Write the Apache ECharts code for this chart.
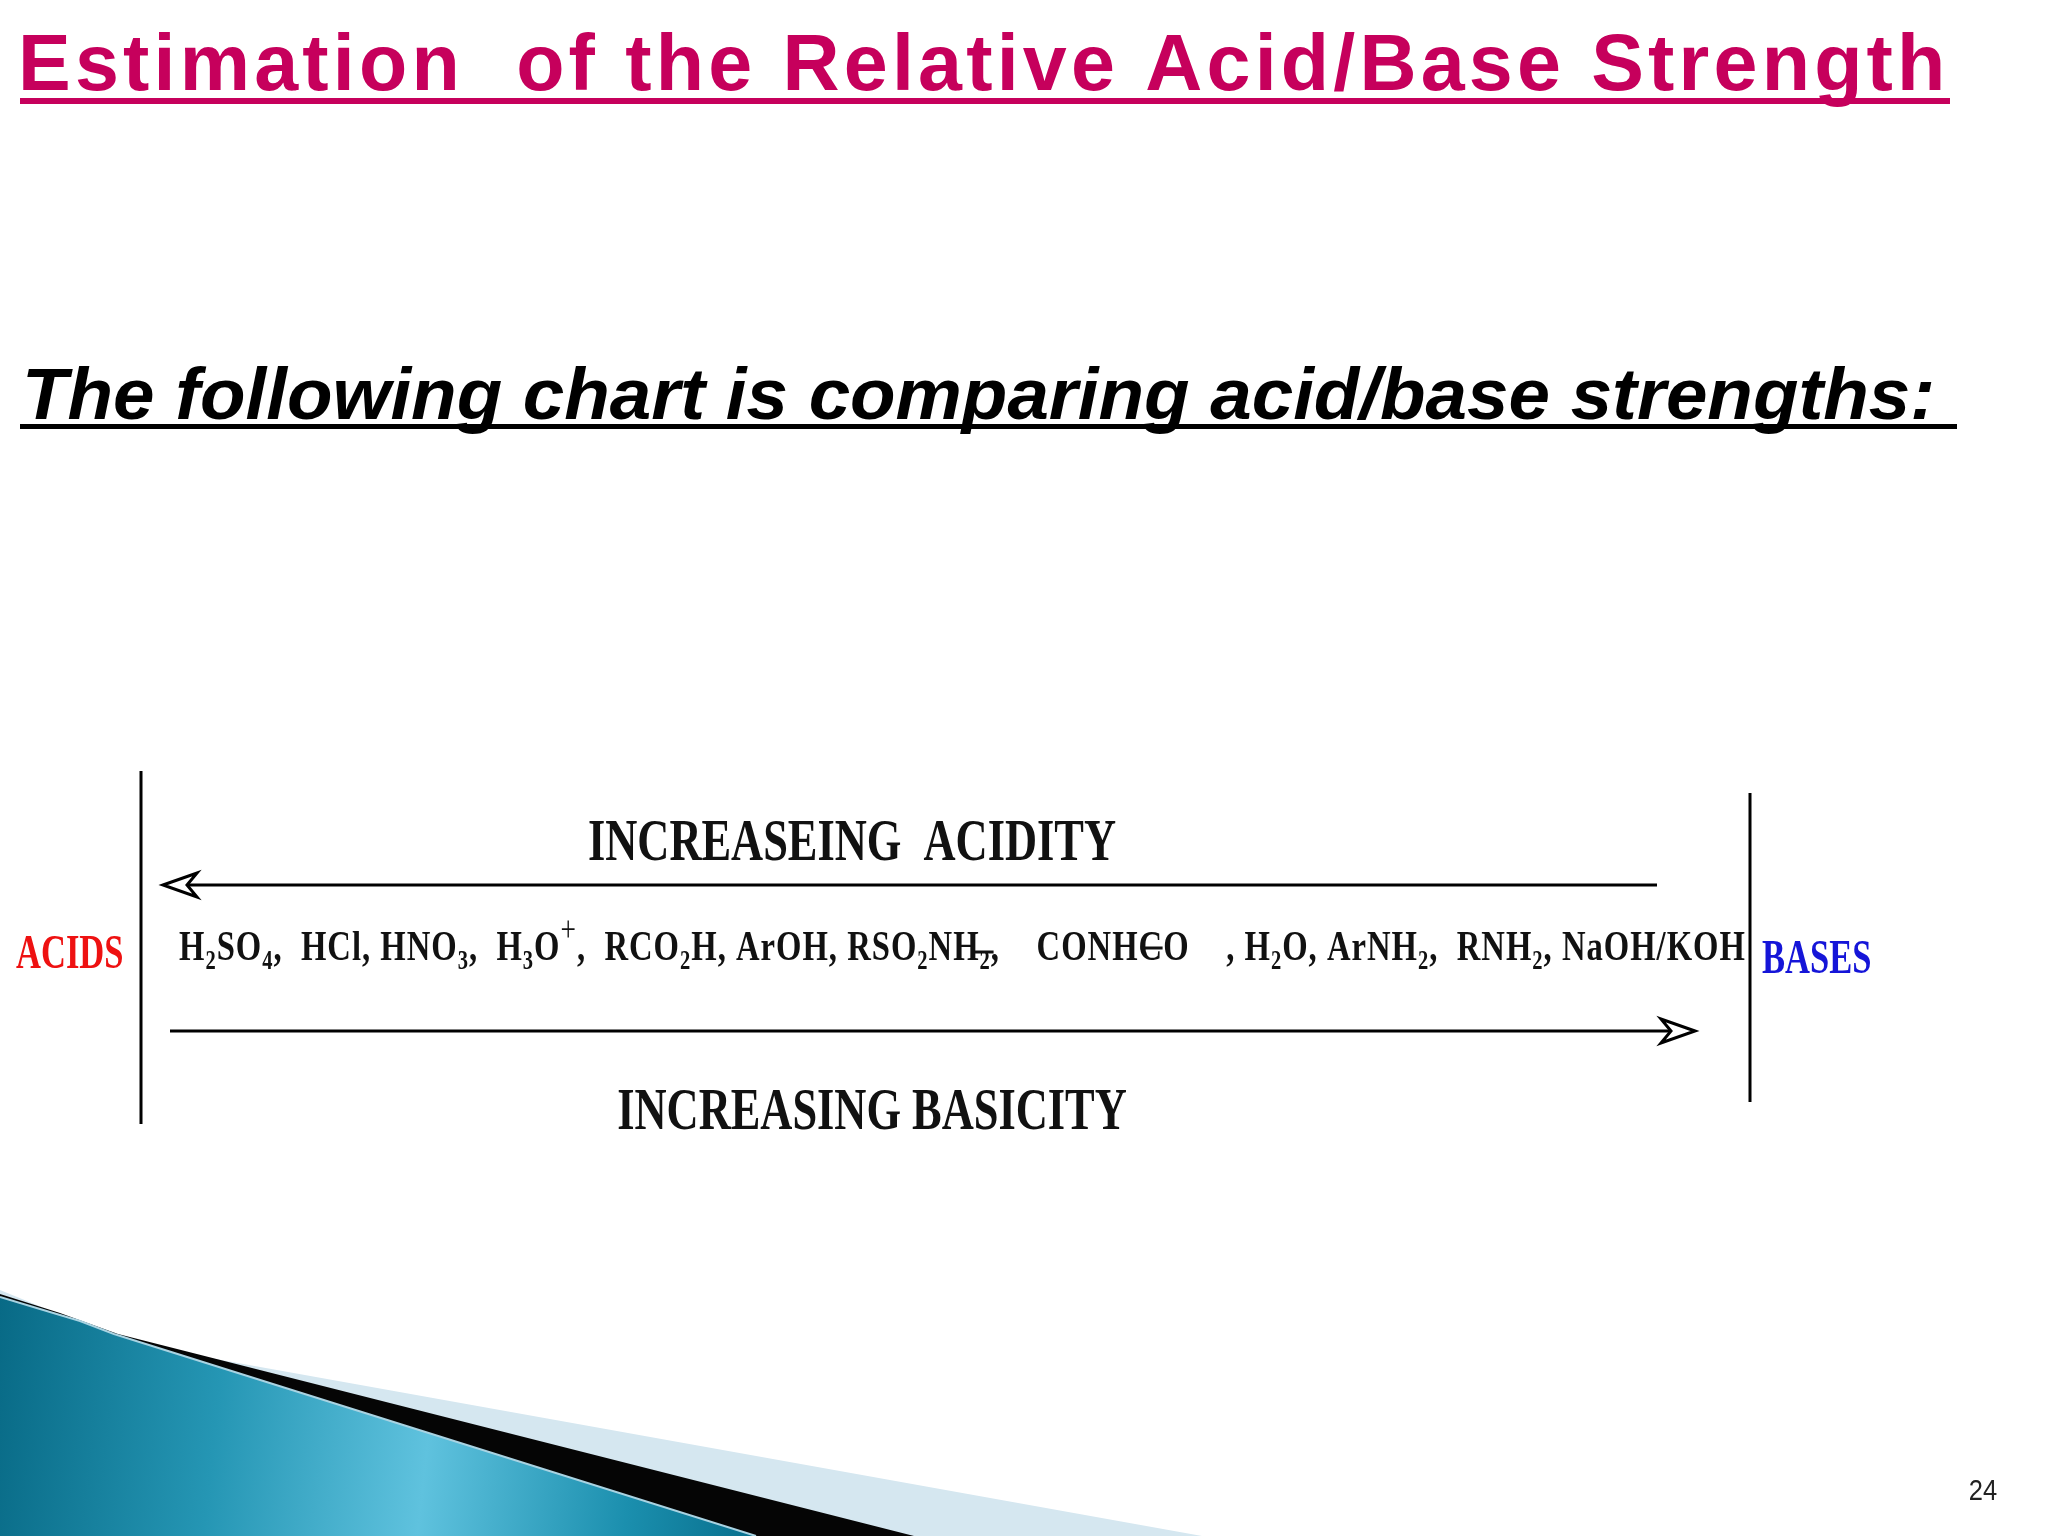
<!DOCTYPE html>
<html>
<head>
<meta charset="utf-8">
<style>
  html, body { margin: 0; padding: 0; background: #ffffff; }
  #chart { width: 2048px; height: 1536px; }
</style>
<script src="https://cdn.jsdelivr.net/npm/echarts@6/dist/echarts.min.js"></script>
</head>
<body>
<div id="chart"></div>
<script>
// ---- content ----
const titleText = 'Estimation  of the Relative Acid/Base Strength';
const subtitleText = 'The following chart is comparing acid/base strengths: ';
const acidLabel = 'ACIDS';
const baseLabel = 'BASES';
const acidityLabel = 'INCREASEING  ACIDITY';
const basicityLabel = 'INCREASING BASICITY';
const pageNumber = '24';
// compounds, ordered from strongest acid to strongest base ( _n = subscript, ^x = superscript )
const compounds = ['H_2SO_4', 'HCl', 'HNO_3', 'H_3O^+', 'RCO_2H', 'ArOH', 'RSO_2NH_2', 'CONHCO', 'H_2O', 'ArNH_2', 'RNH_2', 'NaOH/KOH'];
const separators = [',  ', ', ', ',  ', ',  ', ', ', ', ', ',    ', '    , ', ', ', ',  ', ', ', ''];

// ---- styles / layout ----
const SERIF = '"Liberation Serif", "Times New Roman", serif';
const SANS = '"Liberation Sans", Arial, sans-serif';
const magenta = '#c6005c';
const ink = '#111111';
const rowX = 179, rowY = 949;
const rowScale = 0.76;
const rowFont = 43, subFont = 27, supFont = 36;
const rowGap = 1.3;   // letter spacing (unscaled px)
const subDrop = 13, supRise = 17;

// ---- build per-character tokens for the compound row ----
const rowTokens = [];   // {ch, st, comp}
compounds.forEach((c, ci) => {
  for (let i = 0; i < c.length; i++) {
    const ch = c[i];
    if ((ch === '_' || ch === '^') && i + 1 < c.length) {
      rowTokens.push({ ch: c[i + 1], st: ch === '_' ? 'sub' : 'sup', comp: ci });
      i++;
    } else {
      rowTokens.push({ ch: ch, st: 'm', comp: ci });
    }
  }
  for (const ch of separators[ci]) rowTokens.push({ ch: ch, st: 'm', comp: -1 });
});
// sub/superscripts keep their room in the row but are drawn as their own texts
const rowRich = rowTokens.map(t => '{' + (t.st === 'm' ? 'm' : 'gap_' + t.st) + '|' + t.ch + '}').join('');
const titleRich = titleText.split('').map(ch => '{c|' + ch + '}').join('');

// measure token positions
const mctx = document.createElement('canvas').getContext('2d');
const fontOf = { m: 'bold ' + rowFont + 'px ' + SERIF, sub: 'bold ' + subFont + 'px ' + SERIF, sup: supFont + 'px ' + SERIF };
const tokenLeft = [];
let acc = 0;
rowTokens.forEach(t => {
  tokenLeft.push(acc);
  mctx.font = fontOf[t.st];
  acc += mctx.measureText(t.ch).width + rowGap;
});
function tokX(idx) { return rowX + tokenLeft[idx] * rowScale; }
function findToken(compIdx, nth) {
  let k = -1;
  for (let i = 0; i < rowTokens.length; i++) {
    if (rowTokens[i].comp === compIdx) { k++; if (k === nth) return i; }
  }
  return 0;
}
const dashA = tokX(findToken(6, 6));   // last "2" of RSO2NH2
const dashB = tokX(findToken(7, 4));   // second "C" of CONHCO

const scriptTexts = [];
rowTokens.forEach((t, i) => {
  if (t.st === 'm') return;
  scriptTexts.push({
    type: 'text', x: tokX(i), y: t.st === 'sub' ? rowY + subDrop : rowY - supRise, scaleX: rowScale, z: 6,
    style: {
      text: t.ch, fill: ink, fontFamily: SERIF, fontWeight: t.st === 'sub' ? 'bold' : 'normal',
      fontSize: t.st === 'sub' ? subFont : supFont, align: 'left', verticalAlign: 'middle'
    }
  });
});

const chart = echarts.init(document.getElementById('chart'), null, { renderer: 'canvas' });

function arrowHead(tipX, y, dir) {
  const L = 34, W = 12, N = 24;
  return {
    type: 'polygon',
    shape: { points: [[tipX, y], [tipX - dir * L, y - W], [tipX - dir * N, y], [tipX - dir * L, y + W]] },
    style: { fill: '#ffffff', stroke: '#000000', lineWidth: 3, lineJoin: 'miter' },
    z: 10
  };
}

const graphic = [
  // bottom-left decoration
  {
    type: 'polygon',
    shape: { points: [[0, 1290], [132, 1344], [1202, 1536], [0, 1536]] },
    style: { fill: '#d5e7f0' }, z: 1
  },
  {
    type: 'polygon',
    shape: { points: [[0, 1294], [60, 1313], [118, 1334], [914, 1536], [0, 1536]] },
    style: { fill: '#050505' }, z: 2
  },
  {
    type: 'polygon',
    shape: { points: [[0, 1297], [40, 1309], [80, 1321], [114, 1334], [756, 1536], [0, 1536]] },
    style: {
      fill: new echarts.graphic.LinearGradient(0, 0, 1, 0.35, [
        { offset: 0, color: '#086a86' },
        { offset: 0.3, color: '#2596b4' },
        { offset: 0.58, color: '#5fc2de' },
        { offset: 0.85, color: '#1b8fae' },
        { offset: 1, color: '#0a7391' }
      ])
    }, z: 3
  },
  {
    type: 'polyline',
    shape: { points: [[0, 1297], [40, 1309], [80, 1321], [114, 1334], [756, 1536]] },
    style: { stroke: '#a9d3e2', lineWidth: 2, fill: null }, z: 4
  },

  // title
  {
    type: 'text', x: 18, y: 68, z: 5,
    style: {
      text: titleRich, fill: magenta, fontFamily: SANS, fontWeight: 'bold', fontSize: 79, align: 'left', verticalAlign: 'middle',
      rich: { c: { fontFamily: SANS, fontWeight: 'bold', fontSize: 79, fill: magenta, padding: [0, 4.2, 0, 0] } }
    }
  },
  { type: 'rect', shape: { x: 20, y: 98, width: 1930, height: 6 }, style: { fill: magenta }, z: 5 },

  // subtitle
  {
    type: 'text', x: 22, y: 399, scaleX: 1.035, z: 5,
    style: { text: subtitleText, fill: '#000000', fontFamily: SANS, fontWeight: 'bold', fontStyle: 'italic', fontSize: 72, align: 'left', verticalAlign: 'middle' }
  },
  { type: 'rect', shape: { x: 20, y: 424, width: 1937, height: 5 }, style: { fill: '#000000' }, z: 5 },

  // vertical bars
  { type: 'line', shape: { x1: 141, y1: 771, x2: 141, y2: 1124 }, style: { stroke: '#000', lineWidth: 3 }, z: 5 },
  { type: 'line', shape: { x1: 1750, y1: 793, x2: 1750, y2: 1102 }, style: { stroke: '#000', lineWidth: 3 }, z: 5 },

  // arrows
  { type: 'line', shape: { x1: 1657, y1: 885, x2: 186, y2: 885 }, style: { stroke: '#000', lineWidth: 3 }, z: 5 },
  arrowHead(163, 885, -1),
  { type: 'line', shape: { x1: 170, y1: 1031, x2: 1672, y2: 1031 }, style: { stroke: '#000', lineWidth: 3 }, z: 5 },
  arrowHead(1695, 1031, 1),

  // labels
  {
    type: 'text', x: 852, y: 844, scaleX: 0.74, z: 5,
    style: { text: acidityLabel, fill: ink, fontFamily: SERIF, fontWeight: 'bold', fontSize: 60, align: 'center', verticalAlign: 'middle' }
  },
  {
    type: 'text', x: 872, y: 1113, scaleX: 0.74, z: 5,
    style: { text: basicityLabel, fill: ink, fontFamily: SERIF, fontWeight: 'bold', fontSize: 60, align: 'center', verticalAlign: 'middle' }
  },
  {
    type: 'text', x: 16, y: 956, scaleX: 0.72, z: 5,
    style: { text: acidLabel, fill: '#ee1111', fontFamily: SERIF, fontWeight: 'bold', fontSize: 48, align: 'left', verticalAlign: 'middle' }
  },
  {
    type: 'text', x: 1762, y: 961, scaleX: 0.72, z: 5,
    style: { text: baseLabel, fill: '#1515d8', fontFamily: SERIF, fontWeight: 'bold', fontSize: 48, align: 'left', verticalAlign: 'middle' }
  },

  // compound row
  {
    type: 'text', x: rowX, y: rowY, scaleX: rowScale, z: 5,
    style: {
      text: rowRich, fill: ink, fontFamily: SERIF, fontWeight: 'bold', fontSize: rowFont,
      align: 'left', verticalAlign: 'middle',
      rich: {
        m: { fontFamily: SERIF, fontWeight: 'bold', fontSize: rowFont, fill: ink, padding: [0, rowGap, 0, 0] },
        gap_sub: { fontFamily: SERIF, fontWeight: 'bold', fontSize: subFont, fill: 'rgba(0,0,0,0)', padding: [0, rowGap, 0, 0] },
        gap_sup: { fontFamily: SERIF, fontWeight: 'normal', fontSize: supFont, fill: 'rgba(0,0,0,0)', padding: [0, rowGap, 0, 0] }
      }
    }
  },
  ...scriptTexts,
  // overprint marks seen in the source slide
  { type: 'line', shape: { x1: dashA - 5, y1: rowY + 3, x2: dashA + 14, y2: rowY + 3 }, style: { stroke: ink, lineWidth: 3 }, z: 6 },
  { type: 'line', shape: { x1: dashB + 2, y1: rowY - 1, x2: dashB + 24, y2: rowY - 1 }, style: { stroke: ink, lineWidth: 3 }, z: 6 },

  // page number
  {
    type: 'text', x: 1983, y: 1492, scaleX: 0.85, z: 5,
    style: { text: pageNumber, fill: '#222', fontFamily: SANS, fontSize: 30, align: 'center', verticalAlign: 'middle' }
  }
];

chart.setOption({
  backgroundColor: '#ffffff',
  animation: false,
  graphic: graphic
});
</script>
</body>
</html>
